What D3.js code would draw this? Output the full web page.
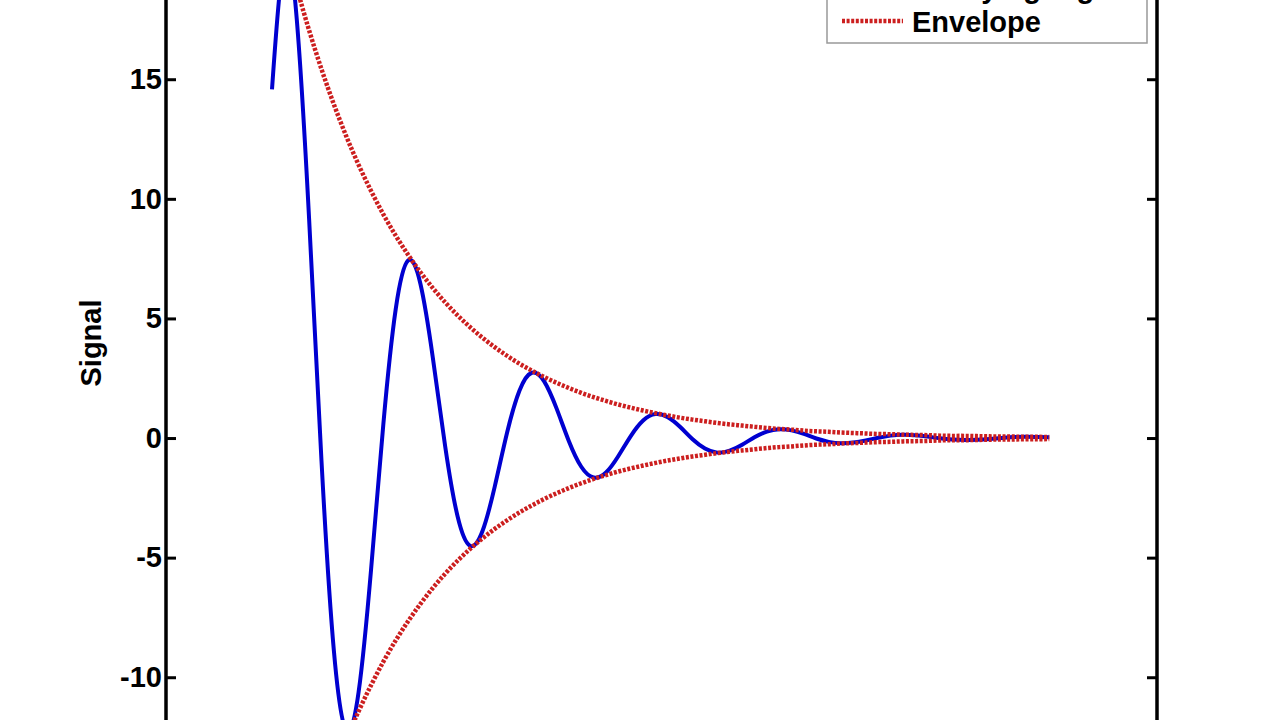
<!DOCTYPE html>
<html>
<head>
<meta charset="utf-8">
<script src="https://cdn.jsdelivr.net/npm/d3@7"></script>
<style>
  html, body { margin: 0; padding: 0; background: #fff; overflow: hidden; }
  svg { display: block; font-family: "Liberation Sans", Arial, sans-serif; }
</style>
</head>
<body>
<svg id="chart" width="1280" height="720"></svg>
<script>
// ---- data ----
const time = [0,0.1,0.2,0.3,0.4,0.5,0.6,0.7,0.8,0.9,1.0,1.1,1.2,1.3,1.4,1.5,1.6,1.7,1.8,1.9,2.0,2.1,2.2,2.3,2.4,2.5,2.6,2.7,2.8,2.9,3.0,3.1,3.2,3.3,3.4,3.5,3.6,3.7,3.8,3.9,4.0,4.1,4.2,4.3,4.4,4.5,4.6,4.7,4.8,4.9,5.0,5.1,5.2,5.3,5.4,5.5,5.6,5.7,5.8,5.9,6.0,6.1,6.2,6.283];
const signal = [14.58,20.16,17.51,9.14,-0.96,-8.89,-12.23,-10.62,-5.54,0.58,5.39,7.42,6.44,3.36,-0.35,-3.27,-4.50,-3.91,-2.04,0.22,1.98,2.73,2.37,1.24,-0.13,-1.20,-1.65,-1.44,-0.75,0.08,0.73,1.00,0.87,0.46,-0.05,-0.44,-0.61,-0.53,-0.28,0.03,0.27,0.37,0.32,0.17,-0.02,-0.16,-0.22,-0.19,-0.10,0.01,0.10,0.14,0.12,0.06,-0.01,-0.06,-0.08,-0.07,-0.04,0.00,0.04,0.05,0.04,0.03];
const envelope = [23.0,20.81,18.83,17.04,15.42,13.95,12.62,11.42,10.34,9.35,8.46,7.66,6.93,6.27,5.67,5.13,4.64,4.20,3.80,3.44,3.11,2.82,2.55,2.31,2.09,1.89,1.71,1.55,1.40,1.27,1.15,1.04,0.94,0.85,0.77,0.70,0.63,0.57,0.52,0.47,0.42,0.38,0.35,0.31,0.28,0.26,0.23,0.21,0.19,0.17,0.16,0.14,0.13,0.12,0.10,0.09,0.09,0.08,0.07,0.06,0.06,0.05,0.05,0.04];
const yTicks = [-10,-5,0,5,10,15];
const seriesNames = ["Decaying Signal", "Envelope"];
const yLabel = "Signal";

// ---- layout ----
const svg = d3.select("#chart");
const left = 166, right = 1157;
const x = d3.scaleLinear().domain([-0.857, 7.154]).range([left, right]);
const y = d3.scaleLinear().domain([-13, 21]).range([749.0, -64.3]);
const blue = "#0000d0", red = "#cc1f1f";
const fontSize = 29;
const dash = "3,1.6";

// spines
svg.append("line").attr("x1", left).attr("x2", left).attr("y1", y(-13)).attr("y2", y(21))
  .attr("stroke", "#000").attr("stroke-width", 3.5);
svg.append("line").attr("x1", right).attr("x2", right).attr("y1", y(-13)).attr("y2", y(21))
  .attr("stroke", "#000").attr("stroke-width", 3.5);

// left axis (inward ticks, labels outside)
const yAxisL = svg.append("g").attr("transform", `translate(${left},0)`)
  .call(d3.axisLeft(y).tickValues(yTicks).tickSize(-10).tickPadding(4).tickFormat(d3.format("d")));
yAxisL.select(".domain").remove();
yAxisL.selectAll(".tick line").attr("stroke", "#000").attr("stroke-width", 3);
yAxisL.selectAll(".tick text").attr("font-size", fontSize).attr("font-weight", "bold")
  .attr("fill", "#000").attr("font-family", "Liberation Sans, Arial, sans-serif")
  .text(d => d < 0 ? "-" + Math.abs(d) : d);

// right axis (ticks only)
const yAxisR = svg.append("g").attr("transform", `translate(${right},0)`)
  .call(d3.axisRight(y).tickValues(yTicks).tickSize(-10).tickFormat(""));
yAxisR.select(".domain").remove();
yAxisR.selectAll(".tick line").attr("stroke", "#000").attr("stroke-width", 3);

// y label
svg.append("text").attr("transform", "translate(101,343) rotate(-90)")
  .attr("text-anchor", "middle").attr("font-size", fontSize).attr("font-weight", "bold")
  .attr("fill", "#000").text(yLabel);

// lines
const pts = (arr, sign) => time.map((t, i) => [t, sign * arr[i]]);
const line = d3.line().x(d => x(d[0])).y(d => y(d[1])).curve(d3.curveNatural);

svg.append("path").attr("d", line(pts(signal, 1))).attr("fill", "none")
  .attr("stroke", blue).attr("stroke-width", 4).attr("stroke-linejoin", "round");
[1, -1].forEach(s => {
  svg.append("path").attr("d", line(pts(envelope, s))).attr("fill", "none")
    .attr("stroke", red).attr("stroke-width", 4.5).attr("stroke-dasharray", dash);
});

// legend
const lg = svg.append("g");
lg.append("rect").attr("x", 827).attr("y", -36).attr("width", 320).attr("height", 79)
  .attr("fill", "#fff").attr("stroke", "#999").attr("stroke-width", 1.5);
const rows = [
  { name: seriesNames[0], cy: -13, color: blue, dash: null, w: 4 },
  { name: seriesNames[1], cy: 21, color: red, dash: dash, w: 4.5 }
];
rows.forEach(r => {
  const l = lg.append("line").attr("x1", 842).attr("x2", 903).attr("y1", r.cy).attr("y2", r.cy)
    .attr("stroke", r.color).attr("stroke-width", r.w);
  if (r.dash) l.attr("stroke-dasharray", r.dash);
  lg.append("text").attr("x", 912).attr("y", r.cy + 10.5).attr("font-size", fontSize)
    .attr("font-weight", "bold").attr("fill", "#000").text(r.name);
});
</script>
</body>
</html>
